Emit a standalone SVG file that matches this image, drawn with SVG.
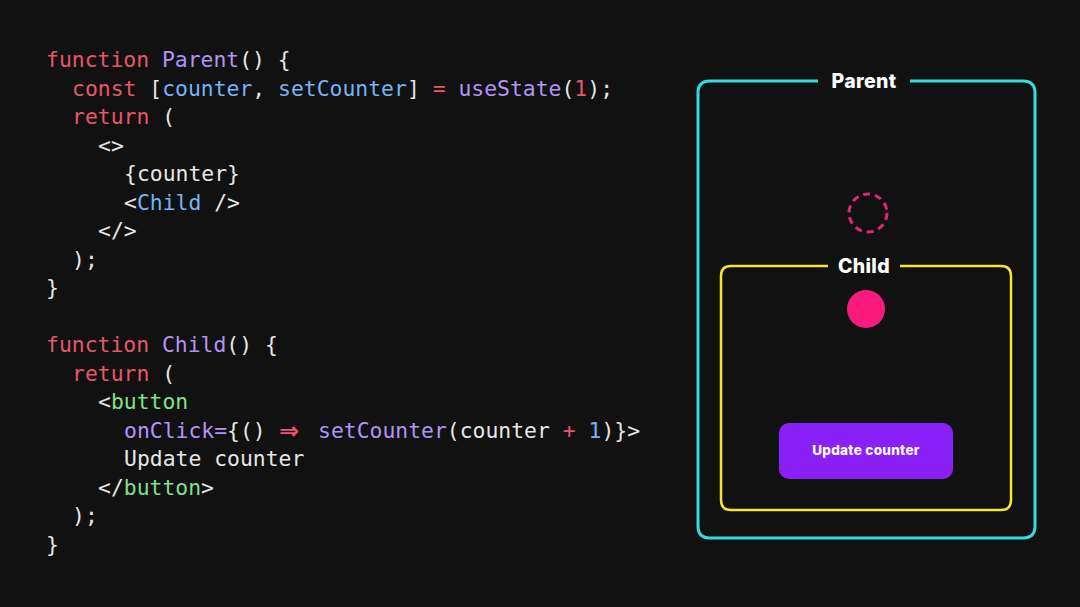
<svg xmlns="http://www.w3.org/2000/svg" width="1080" height="607" viewBox="0 0 1080 607">
<style>
.code{font-family:"DejaVu Sans Mono","Liberation Mono",monospace;font-size:21.4px;fill:#e6e6e6;white-space:pre}
.k{fill:#e8566c}
.f{fill:#b194f5}
.v{fill:#72b4f5}
.t{fill:#7fe08f}
.ar{font-family:"DejaVu Sans",sans-serif;font-size:24px;font-weight:bold}
.lbl{font-family:Inter,"Noto Sans",sans-serif;font-weight:800;fill:#ffffff;text-anchor:middle;letter-spacing:0.3px}
</style>
<rect width="1080" height="607" fill="#111111"/>
<g id="code" class="code" xml:space="preserve">
<text x="46" y="67"><tspan class="k">function</tspan> <tspan class="f">Parent</tspan>() {</text>
<text x="72" y="96"><tspan class="k">const</tspan> [<tspan class="v">counter</tspan>, <tspan class="v">setCounter</tspan>] <tspan class="k">=</tspan> <tspan class="f">useState</tspan>(<tspan class="k">1</tspan>);</text>
<text x="72" y="124"><tspan class="k">return</tspan> (</text>
<text x="98" y="153">&lt;&gt;</text>
<text x="124" y="181">{counter}</text>
<text x="124" y="210">&lt;<tspan class="v">Child</tspan> /&gt;</text>
<text x="98" y="238">&lt;/&gt;</text>
<text x="72" y="267">);</text>
<text x="46" y="295">}</text>
<text x="46" y="352"><tspan class="k">function</tspan> <tspan class="f">Child</tspan>() {</text>
<text x="72" y="381"><tspan class="k">return</tspan> (</text>
<text x="98" y="409">&lt;<tspan class="t">button</tspan></text>
<text x="124" y="438"><tspan class="f">onClick=</tspan>{()</text>
<text x="279" y="439" class="k ar">⇒</text>
<text x="318" y="438"><tspan class="f">setCounter</tspan>(counter <tspan class="k">+</tspan> <tspan class="v">1</tspan>)}&gt;</text>
<text x="124" y="466">Update counter</text>
<text x="98" y="495">&lt;/<tspan class="t">button</tspan>&gt;</text>
<text x="72" y="523">);</text>
<text x="46" y="552">}</text>
</g>
<g id="parent">
<path d="M818,81 H710 Q698,81 698,93 V526 Q698,538 710,538 H1023 Q1035,538 1035,526 V93 Q1035,81 1023,81 H910" fill="none" stroke="#2fdede" stroke-width="3"/>
<text class="lbl" x="864" y="88" font-size="19.5">Parent</text>
<circle cx="868" cy="213" r="19" fill="none" stroke="#e0267c" stroke-width="3" stroke-dasharray="7,5"/>
</g>
<g id="child">
<path d="M828,266 H731 Q721,266 721,276 V500 Q721,510 731,510 H1001 Q1011,510 1011,500 V276 Q1011,266 1001,266 H900" fill="none" stroke="#f2e634" stroke-width="2.5"/>
<text class="lbl" x="864" y="273" font-size="19.5">Child</text>
<circle cx="866" cy="309" r="19" fill="#fa1a7e"/>
</g>
<g id="button">
<rect x="779" y="423" width="174" height="56" rx="10" fill="#8a20f8"/>
<text class="lbl" x="866" y="455" font-size="13.5">Update counter</text>
</g>
</svg>
